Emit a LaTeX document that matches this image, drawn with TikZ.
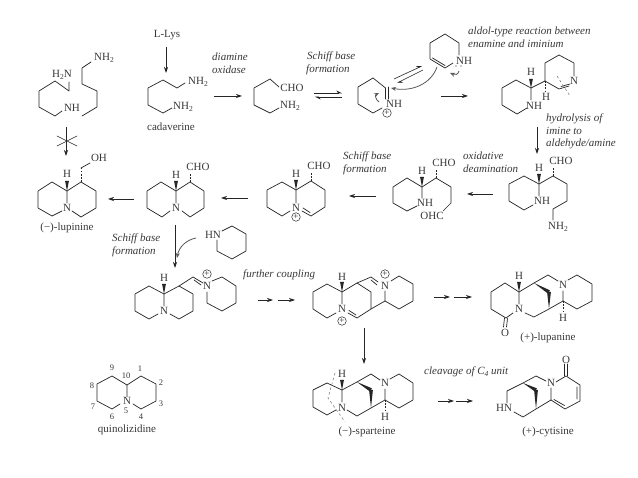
\documentclass[tikz,border=0pt]{standalone}
\usepackage{fontspec}
\setmainfont{Liberation Serif}
\usetikzlibrary{arrows.meta,calc}
\definecolor{ink}{gray}{0.15}
\definecolor{txt}{gray}{0.22}
\newcommand{\sbs}[1]{\raisebox{-1.8pt}{\fontsize{7.5}{7.5}\selectfont #1}}
\newcommand{\wdg}[2]{\fill[ink] (#1) -- ($(#2)!1.9pt!90:(#1)$) -- ($(#2)!1.9pt!-90:(#1)$) -- cycle;}
\newcommand{\rx}[3]{\coordinate (#1s) at (#2); \coordinate (#1e) at (#3); \draw[rxn] (#1s) -- (#1e);}
\newcommand{\pls}[2]{\node[chg] (#1) at (#2) {+};}
\newcommand{\atm}[3]{\node[atom] (#1) at (#2) {#3};}
\newcommand{\cnd}[3]{\node[cond] (#1) at (#2) {#3};}
\newcommand{\tinyn}[3]{\node[num] (#1) at (#2) {#3};}
\tikzset{
  bond/.style={draw=ink,line width=0.7pt,line join=round,line cap=round},
  dbond/.style={draw=ink,line width=1pt,dash pattern=on 1.6pt off 1.6pt},
  gdash/.style={draw=gray,line width=0.6pt,dash pattern=on 2.5pt off 2.5pt},
  rxn/.style={draw=ink,line width=0.7pt,-{Stealth[length=6pt,width=4pt]}},
  eqR/.style={draw=ink,line width=0.6pt,-{Stealth[harpoon,length=5pt,width=5pt]}},
  curly/.style={draw=gray!70!black,line width=0.8pt,-{Stealth[length=5pt,width=4pt]}},
  atom/.style={inner sep=0pt,text=txt,font=\fontsize{11}{12}\selectfont},
  cond/.style={inner sep=0pt,anchor=west,text=txt,font=\fontsize{11}{12}\selectfont\itshape},
  num/.style={inner sep=0pt,text=txt,font=\fontsize{8.5}{9}\selectfont},
  chg/.style={circle,draw=ink,line width=0.5pt,inner sep=0pt,minimum size=8.5pt,text=ink,font=\fontsize{9}{9}\selectfont},
}
\begin{document}
\begin{tikzpicture}[x=1pt,y=-1pt]
\useasboundingbox (0,0) rectangle (638,478);
\fill[white] (0,0) rectangle (638,478);
% diamine (top left)
\draw[bond] (69,82)--(69,91)--(55,81)--(39,91)--(39,107)--(55,116)--(62,111);
\draw[bond] (91,62)--(82,68)--(82,84)--(97,91)--(97,107)--(82,116);
\atm{a1}{62,75}{H\sbs{2}N}\atm{a2}{104,58}{NH\sbs{2}}\atm{a3}{72,108}{NH}
% cadaverine
\atm{lys}{167,35}{L-Lys}
\rx{r1}{166,47}{166,73}
\draw[bond] (185,83)--(177,88)--(163,80)--(148,88)--(148,105)--(163,113)--(172,108);
\atm{b1}{198,82}{NH\sbs{2}}\atm{b2}{183,107}{NH\sbs{2}}\atm{cad}{171,127}{cadaverine}
\rx{r2}{214,96}{242,96}
\cnd{t1}{212,57}{diamine}\cnd{t2}{212,70}{oxidase}
% amino aldehyde
\draw[bond] (279,87)--(270,79)--(254,88)--(254,105)--(270,113)--(279,108);
\atm{c1}{292,88}{CHO}\atm{c2}{290,106}{NH\sbs{2}}
\cnd{t3}{307,57}{Schiff base}\cnd{t4}{306,70}{formation}
\coordinate (e1s) at (314,93);\coordinate (e1e) at (342,93);
\coordinate (e2s) at (342,97);\coordinate (e2e) at (315,97);
\draw[eqR] (e1s)--(e1e);\draw[eqR] (e2s)--(e2e);
% iminium ring
\draw[bond] (385.5,88)--(373,78)--(358,87)--(358,104)--(373,113)--(382,108);
\draw[bond] (385.5,88)--(385.5,99) (388.5,87)--(388.5,99);
\atm{d1}{394,104}{NH}\pls{d2}{387,113}
\draw[curly] (379,102) .. controls (375,99) and (375,95) .. (379,93);
% enamine ring
\draw[bond] (459,55)--(459,43)--(445,34)--(430,43)--(430,59)--(445,68)--(453,63);
\draw[bond] (432.5,58)--(445,65.5);
\atm{e1}{464,61}{NH}
\fill[ink] (456,66) circle (0.7pt) (461,66) circle (0.7pt);
\draw[curly] (459,71) .. controls (458,75) and (455,75) .. (450,73);
\draw[curly] (437,67) .. controls (431,84) and (412,92) .. (391,88);
\coordinate (e3s) at (394,79);\coordinate (e3e) at (422,66);
\coordinate (e4s) at (423,70);\coordinate (e4e) at (397,83);
\draw[eqR] (e3s)--(e3e);\draw[eqR] (e4s)--(e4e);
\rx{r3}{441,96}{468,96}
\cnd{t5}{468,32}{aldol-type reaction between}\cnd{t6}{468,44}{enamine and iminium}
% dimer
\draw[bond] (531,88)--(516,80)--(502,88)--(502,105)--(517,114)--(527,108);
\draw[bond] (531,88)--(531,100) (531,88)--(545,81);
\wdg{531,88}{531,79}
\draw[bond] (545,81)--(545,63)--(559,55)--(574,63)--(574,76);
\draw[bond] (569,86)--(559,89)--(545,81) (570,84)--(561,86.5);
\draw[dbond] (545,81)--(545,91);
\draw[gdash] (557,76)--(570,96);
\atm{f1}{531,72}{H}\atm{f2}{534,106}{NH}\atm{f3}{574,81}{N}\atm{f4}{546,97}{H}
\rx{r4}{537,127}{537,154}
\cnd{t7}{546,119}{hydrolysis of}\cnd{t8}{546,131}{imine to}\cnd{t9}{546,144}{aldehyde/amine}
% amino aldehyde bicyclic
\draw[bond] (539,184)--(524,176)--(509,184)--(509,201)--(524,210)--(533,205);
\draw[bond] (539,184)--(539,196) (539,184)--(553,176)--(567,184)--(567,201)--(553,209)--(553,220);
\wdg{539,184}{539,174}
\draw[dbond] (553,176)--(553,167);
\atm{g1}{539,168}{H}\atm{g2}{561,161}{CHO}\atm{g3}{542,201}{NH}\atm{g4}{558,227}{NH\sbs{2}}
\rx{r5}{493,194}{467,194}
\cnd{t10}{463,156}{oxidative}\cnd{t11}{463,169}{deamination}
% dialdehyde
\draw[bond] (422,187)--(407,178)--(393,187)--(393,203)--(407,211)--(417,206);
\draw[bond] (422,187)--(422,198) (422,187)--(436,178)--(451,187)--(451,203)--(443,211);
\wdg{422,187}{422,177}
\draw[dbond] (436,178)--(436,170);
\atm{h1}{422,171}{H}\atm{h2}{444,163}{CHO}\atm{h3}{425,203}{NH}\atm{h4}{432,216}{OHC}
\rx{r6}{376,196}{349,196}
\cnd{t12}{343,157}{Schiff base}\cnd{t13}{343,170}{formation}
% iminium bicyclic
\draw[bond] (296,190)--(282,182)--(267,190)--(267,207)--(282,216)--(290,211);
\draw[bond] (296,190)--(296,203) (296,190)--(311,181)--(325,190)--(325,207)--(311,216)--(302,211) (310,212.5)--(303,208);
\wdg{296,190}{296,180}
\draw[dbond] (311,181)--(311,173);
\atm{i1}{296,174}{H}\atm{i2}{319,166}{CHO}\atm{i3}{296,208}{N}\pls{i4}{296,217}
\rx{r7}{248,198}{221,198}
% aldehyde bicyclic
\draw[bond] (176,191)--(161,182)--(147,191)--(147,208)--(162,217)--(170,211);
\draw[bond] (176,191)--(176,203) (176,191)--(190,182)--(204,191)--(204,208)--(190,217)--(182,211);
\wdg{176,191}{176,181}
\draw[dbond] (190,182)--(190,173);
\atm{j1}{176,175}{H}\atm{j2}{198,167}{CHO}\atm{j3}{176,208}{N}
\rx{r8}{134,199}{108,199}
% lupinine
\draw[bond] (67,191)--(52,182)--(38,191)--(38,208)--(52,216)--(62,211);
\draw[bond] (67,191)--(67,203) (67,191)--(81,182)--(96,191)--(96,208)--(81,217)--(72,211);
\wdg{67,191}{67,181}
\draw[dbond] (81,182)--(81,168);
\draw[bond] (81,168)--(90,163);
\atm{k1}{67,174}{H}\atm{k2}{99,158}{OH}\atm{k3}{67,208}{N}\atm{lup}{67,228}{(−)-lupinine}
% blocked arrow
\rx{r9}{66,127}{66,156}
\draw[bond,line width=0.6pt] (57,136)--(77,146) (57,146)--(77,136);
% Schiff step to coupled
\rx{r10}{175,225}{175,268}
\draw[curly] (196,238) .. controls (186,240) and (179,247) .. (177,258);
\cnd{t14}{112,239}{Schiff base}\cnd{t15}{112,252}{formation}
\atm{l1}{213,235}{HN}
\draw[bond] (222,231)--(232,226)--(246,234)--(246,251)--(232,259)--(217,251)--(217,240);
% coupled iminium
\draw[bond] (164,294)--(149,286)--(135,294)--(135,311)--(149,319)--(158,314);
\draw[bond] (164,294)--(164,306) (164,294)--(179,286)--(193,294)--(193,311)--(179,319)--(170,314);
\wdg{164,294}{164,284}
\draw[bond] (179,286)--(193,277)--(203,283) (194,280)--(201,285);
\draw[bond] (212,281)--(222,277)--(236,286)--(236,303)--(222,311)--(207,303)--(207,292);
\atm{m1}{164,278}{H}\atm{m2}{164,311}{N}\atm{m3}{207,286}{N}\pls{m4}{207,274}
\cnd{t16}{243,275}{further coupling}
\rx{r11}{258,300}{273,300}\rx{r12}{278,300}{295,300}
% bis-iminium
\draw[bond] (342,292)--(327,284)--(313,292)--(313,309)--(327,318)--(336,313);
\draw[bond] (342,292)--(342,304) (342,292)--(357,283)--(371,292)--(371,309)--(357,318)--(348,313) (356,315)--(349,310.5);
\wdg{342,292}{342,282}
\draw[bond] (357,283)--(371,277)--(378,282) (371,280)--(377,285);
\draw[bond] (371,309)--(385,301)--(385,291);
\draw[bond] (385,301)--(399,309)--(413,301)--(413,284)--(399,276)--(391,281);
\atm{n1}{342,277}{H}\atm{n2}{342,309}{N}\pls{n3}{342,321}\atm{n4}{385,286}{N}\pls{n5}{385,274}
\rx{r13}{434,297}{450,297}\rx{r14}{454,297}{472,297}
% lupanine
\draw[bond] (519,292)--(505,283)--(491,292)--(491,309)--(506,318)--(513,313);
\draw[bond] (519,292)--(519,304) (519,292)--(534,283)--(548,275)--(558,281);
\wdg{534,283}{549,292}\wdg{549,309}{549,292}
\wdg{519,292}{519,282}
\draw[bond] (549,309)--(534,317)--(525,313) (549,309)--(563,301)--(563,291);
\draw[bond] (563,301)--(577,309)--(592,301)--(592,284)--(577,275)--(568,280);
\draw[dbond] (563,301)--(563,311);
\draw[bond] (504.5,318)--(503.5,327) (507.5,318.5)--(506.5,327);
\atm{o1}{519,276}{H}\atm{o2}{519,309}{N}\atm{o3}{563,285}{N}\atm{o4}{563,318}{H}\atm{o5}{505,333}{O}\atm{lpn}{548,338}{(+)-lupanine}
\rx{r15}{364,328}{364,364}
% sparteine
\draw[bond] (342,390)--(327,383)--(313,390)--(313,407)--(327,415)--(336,410);
\draw[bond] (342,390)--(342,402) (342,390)--(357,382)--(371,374)--(380,380);
\wdg{357,382}{371,390}\wdg{371,408}{371,390}
\wdg{342,390}{342,380}
\draw[bond] (371,408)--(357,416)--(347,410) (371,408)--(385,400)--(385,389);
\draw[bond] (385,400)--(399,408)--(413,400)--(413,383)--(399,374)--(390,379);
\draw[dbond] (385,400)--(385,411);
\draw[gdash] (335,373)--(328,398)--(345,422);
\atm{p1}{342,374}{H}\atm{p2}{342,408}{N}\atm{p3}{385,383}{N}\atm{p4}{385,417}{H}\atm{spa}{367,432}{(−)-sparteine}
\node[cond] (t17) at (424,372) {cleavage of C\sbs{4} unit};
\rx{r16}{438,401}{454,401}\rx{r17}{456,401}{473,401}
% cytisine
\draw[bond] (566,376)--(580,385)--(580,401)--(565,409)--(551,400)--(551,388) (566,376)--(556,382);
\draw[bond] (577,387)--(577,399) (564.5,405.5)--(554,399.5);
\draw[bond] (564.5,364)--(564.5,376) (567.5,364)--(567.5,376);
\draw[bond] (551,400)--(536,409)--(523,417)--(514,412) (546,381)--(536,376)--(523,383)--(507,391)--(507,403);
\wdg{523,383}{536,390}\wdg{536,409}{536,390}
\atm{q1}{566,360}{O}\atm{q2}{551,383}{N}\atm{q3}{504,408}{HN}\atm{cyt}{548,432}{(+)-cytisine}
% quinolizidine
\draw[bond] (127,385)--(112,376)--(97,384)--(97,401)--(112,409)--(120,404);
\draw[bond] (127,385)--(127,397) (127,385)--(141,376)--(156,384)--(156,401)--(141,409)--(133,404);
\atm{u1}{127,401}{N}\atm{qui}{127,430}{quinolizidine}
\tinyn{s9}{112,368}{9}\tinyn{s10}{126,376}{10}\tinyn{s1}{140,369}{1}\tinyn{s2}{161,383}{2}\tinyn{s3}{161,404}{3}\tinyn{s4}{141,417}{4}\tinyn{s5}{126,411}{5}\tinyn{s6}{112,417}{6}\tinyn{s7}{93,407}{7}\tinyn{s8}{92,386}{8}
\end{tikzpicture}
\end{document}
